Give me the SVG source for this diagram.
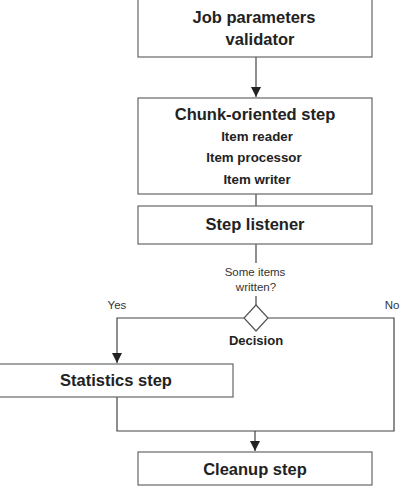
<svg xmlns="http://www.w3.org/2000/svg" width="400" height="486" viewBox="0 0 400 486">
<style>
.box{fill:#fff;stroke:#666;stroke-width:1.2}
.t{font-family:"Liberation Sans",Arial,sans-serif;font-weight:bold;fill:#222;text-anchor:middle}
.big{font-size:16.5px}
.sm{font-size:13.3px}
.lab{font-family:"Liberation Sans",Arial,sans-serif;font-size:11.5px;fill:#333;text-anchor:middle}
.ln{fill:none;stroke:#444;stroke-width:1.2}
</style>
<defs>
<marker id="ah" viewBox="0 0 10 10" refX="10" refY="5" markerWidth="10" markerHeight="10" markerUnits="userSpaceOnUse" orient="auto">
<path d="M0,0 L10,5 L0,10 z" fill="#222"/>
</marker>
</defs>
<g id="connectors">
<line class="ln" x1="256" y1="57" x2="256" y2="97" marker-end="url(#ah)"/>
<line class="ln" x1="256" y1="194" x2="256" y2="206"/>
<line class="ln" x1="256" y1="244" x2="256" y2="263"/>
<line class="ln" x1="256" y1="296" x2="256" y2="305"/>
<polyline class="ln" points="244,318 117,318 117,363" marker-end="url(#ah)"/>
<polyline class="ln" points="268,318 394,318 394,431 117,431 117,397"/>
<line class="ln" x1="255" y1="431" x2="255" y2="451" marker-end="url(#ah)"/>
</g>
<g id="job-parameters-validator">
<rect class="box" x="138" y="-20" width="234" height="77"/>
<text class="t big" x="254" y="23">Job parameters</text>
<text class="t big" x="260" y="45">validator</text>
</g>
<g id="chunk-oriented-step">
<rect class="box" x="138" y="98" width="234" height="96"/>
<text class="t big" x="255" y="120">Chunk-oriented step</text>
<text class="t sm" x="257" y="141">Item reader</text>
<text class="t sm" x="254" y="162">Item processor</text>
<text class="t sm" x="257" y="184">Item writer</text>
</g>
<g id="step-listener">
<rect class="box" x="138" y="206" width="234" height="38"/>
<text class="t big" x="255" y="230">Step listener</text>
</g>
<g id="decision">
<text class="lab" x="255" y="276">Some items</text>
<text class="lab" x="256" y="291">written?</text>
<polygon points="256,305 268,318 256,331 244,318" fill="#fff" stroke="#555" stroke-width="1.2"/>
<text class="t" x="256" y="345" font-size="13px">Decision</text>
<text class="lab" x="117" y="309">Yes</text>
<text class="lab" x="392" y="309">No</text>
</g>
<g id="statistics-step">
<rect class="box" x="-10" y="364" width="243" height="33"/>
<text class="t big" x="116" y="386">Statistics step</text>
</g>
<g id="cleanup-step">
<rect class="box" x="138" y="452" width="234" height="33"/>
<text class="t big" x="255" y="475">Cleanup step</text>
</g>
</svg>
